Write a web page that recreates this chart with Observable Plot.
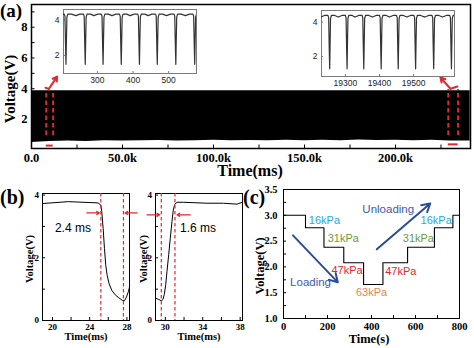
<!DOCTYPE html>
<html><head><meta charset="utf-8">
<script src="https://cdn.jsdelivr.net/npm/d3@7"></script>
<script src="https://cdn.jsdelivr.net/npm/@observablehq/plot@0.6"></script>
<style>
body{margin:0;background:#fff;}
#root{position:relative;width:474px;height:348px;overflow:hidden;background:#fff;}
.lbl{position:absolute;font-family:"Liberation Serif","Times New Roman",serif;font-weight:bold;color:#000;white-space:nowrap;line-height:1;}
</style></head><body><div id="root"></div>
<script>
// ---------------- DATA ----------------
// Panel (a): long-term signal envelope (time in ms, voltage in V)
const aTime  = [0,10000,20000,30000,40000,50000,60000,70000,80000,90000,100000,110000,120000,130000,140000,150000,160000,170000,180000,190000,200000,210000,220000,230000,241000];
const aUpper = [3.86,3.86,3.86,3.86,3.86,3.86,3.86,3.86,3.86,3.86,3.86,3.86,3.86,3.86,3.86,3.86,3.86,3.86,3.86,3.86,3.86,3.86,3.86,3.86,3.86];
const aLower = [0.50,0.56,0.60,0.57,0.62,0.60,0.61,0.63,0.60,0.62,0.64,0.61,0.63,0.62,0.65,0.61,0.64,0.62,0.66,0.63,0.65,0.62,0.64,0.60,0.60];
const aXTicks = [0,50000,100000,150000,200000];
const aXTickLabels = ["0.0","50.0k","100.0k","150.0k","200.0k"];
const aXMinor = [25000,75000,125000,175000,225000];
const aYTicks = [2,4,6,8];
const aYMinor = [1,3,5,7,9];
const aWindowLeft  = [8100, 11900];
const aWindowRight = [229000, 234400];

// Insets of (a)
const insetLTicks = [300,400,500];
const insetLDips  = [212,266,316,367,418,468,520,573];
const insetRTicks = [19300,19400,19500];
const insetRDips  = [19254,19305,19354,19405,19455,19506,19559,19611];
const insetYTicks = [2,4];
const dipOffset = [-26,-15,-5,-3,-1.2,0,1,2.5,5,15];
const dipDepth  = [0.03,0,0,0.04,0.65,1,0.6,0.06,0,0];
const insetLTop = 4.33, insetLBottom = 1.50;
const insetRTop = 4.39, insetRBottom = 1.28;

// Panel (b): response (left) and recovery (right)
const bLeftTime = [18.93,21.7,24.9,25.20,25.30,25.45,25.59,25.73,25.88,26.09,26.38,26.74,27.10,27.53,27.74,27.96,28.17,28.28];
const bLeftVolt = [3.73,3.79,3.75,3.68,3.47,2.93,2.29,1.76,1.44,1.17,0.96,0.82,0.73,0.64,0.63,0.75,0.93,1.07];
const bRightTime = [28.95,29.29,29.57,29.75,29.89,30.04,30.18,30.36,30.53,30.71,30.85,31.00,31.25,31.96,34.45,36.23,37.65,38.25];
const bRightVolt = [0.72,0.67,0.63,0.67,0.83,1.14,1.57,2.10,2.62,3.15,3.52,3.70,3.77,3.77,3.74,3.74,3.71,3.77];
const bLeftMarkers  = [25.2, 27.63];
const bRightMarkers = [29.57, 31.03];
const bLeftLabel = "2.4 ms", bRightLabel = "1.6 ms";
const bYTicks = [0,2,4], bYMinor = [1,3];
const bLeftXTicks = [20,24,28], bLeftXMinor = [22,26];
const bRightXTicks = [30,34,38], bRightXMinor = [32,36];

// Panel (c): step response to pressure loading/unloading
const cTime = [0,100,184,274,364,452,564,686,770,800];
const cVolt = [3.00,2.76,2.38,2.08,1.66,2.08,2.38,2.76,3.00,3.00];
const cLabels = ["16kPa","31kPa","47kPa","63kPa","47kPa","31kPa","16kPa"];
const cLabelT = [186,272,289,400,533,613,694];
const cLabelV = [2.90,2.545,1.93,1.51,1.91,2.545,2.90];
const cXTicks = [0,200,400,600,800], cXMinor = [100,300,500,700];
const cYTicks = [1.0,1.5,2.0,2.5,3.0,3.5], cYMinor = [1.25,1.75,2.25,2.75,3.25];

// ---------------- STYLE ----------------
const SERIF = '"Liberation Serif","Times New Roman",serif';
const SANS = '"Liberation Sans",Arial,sans-serif';
const RED = "#e3262f";
const pressureColor = {"16kPa":"#27a9e1","31kPa":"#6e9a3b","47kPa":"#e5262a","63kPa":"#e98452"};
const ARROW_BLUE = "#2b4c9b", TEXT_BLUE = "#3c5ba8";

const root = document.getElementById("root");
function place(node, left, top) {
  node.style.position = "absolute"; node.style.left = left + "px"; node.style.top = top + "px";
  root.appendChild(node);
}
function label(text, cx, cy, size, rotate) {
  const d = document.createElement("div");
  d.className = "lbl"; d.textContent = text; d.style.fontSize = size + "px";
  d.style.left = cx + "px"; d.style.top = cy + "px";
  d.style.transform = "translate(-50%,-50%)" + (rotate ? " rotate(-90deg)" : "");
  root.appendChild(d);
}
function corner(text, left, top, size) {
  const d = document.createElement("div");
  d.className = "lbl"; d.textContent = text; d.style.fontSize = size + "px";
  d.style.left = left + "px"; d.style.top = top + "px";
  root.appendChild(d);
}
function panel(o) {
  const iw = o.width - o.ml - o.mr, ih = o.height - o.mt - o.mb;
  const tl = o.tickLen ?? 3;
  const fr = o.frame ?? "black";
  return Plot.plot({
    width: o.width, height: o.height,
    marginLeft: o.ml, marginRight: o.mr, marginTop: o.mt, marginBottom: o.mb,
    x: {domain: o.xd}, y: {domain: o.yd},
    style: {fontFamily: o.font ?? SERIF, fontSize: o.fs + "px", fontWeight: o.fw ?? "bold",
            background: "transparent", overflow: "visible", color: o.color ?? "black"},
    marks: [
      ...(o.under ?? []),
      Plot.ruleX(o.xt.concat(o.xm ?? []), {insetTop: ih - tl, stroke: fr}),
      Plot.ruleY(o.yt.concat(o.ym ?? []), {insetRight: iw - tl, stroke: fr}),
      Plot.axisX({ticks: o.xt, tickSize: 0, tickPadding: o.xpad, tickFormat: o.xf ?? (d => String(d)), label: null}),
      Plot.axisY({ticks: o.yt, tickSize: 0, tickPadding: o.ypad, tickFormat: o.yf ?? (d => String(d)), label: null}),
      Plot.frame({stroke: fr, strokeWidth: o.fwid ?? 1}),
      ...(o.over ?? [])
    ]
  });
}

// ---------------- PANEL (a) ----------------
const band = aTime.map((t, i) => ({t, lo: aLower[i], hi: aUpper[i]}));
const redDash = {stroke: RED, strokeWidth: 2, strokeDasharray: "4.5,3"};
place(panel({
  width: 474, height: 178, ml: 31, mr: 4, mt: 4, mb: 30,
  xd: [0, 241200], yd: [0.11, 9.48], fs: 12.5, xpad: 5, ypad: 4, tickLen: 3.5, fwid: 1.5,
  xt: aXTicks, xm: aXMinor, yt: aYTicks, ym: aYMinor,
  xf: d => aXTickLabels[aXTicks.indexOf(d)],
  under: [Plot.areaY(band, {x: "t", y1: "lo", y2: "hi", fill: "black"})],
  over: [
    Plot.ruleX(aWindowLeft, {y1: 0.96, y2: 3.77, ...redDash}),
    Plot.ruleX(aWindowRight, {y1: 0.96, y2: 3.95, ...redDash}),
    Plot.ruleY([0.30], {x1: aWindowLeft[0], x2: aWindowLeft[1], stroke: RED, strokeWidth: 2}),
    Plot.ruleY([0.38], {x1: aWindowRight[0], x2: aWindowRight[1], stroke: RED, strokeWidth: 2}),
    Plot.line([[7700, 4.06], [9500, 3.99]], {stroke: RED, strokeWidth: 2}),
    Plot.arrow([{x1: 9500, y1: 3.99, x2: 14100, y2: 4.79}], {x1: "x1", y1: "y1", x2: "x2", y2: "y2", stroke: RED, strokeWidth: 2, headLength: 5}),
    Plot.line([[234000, 4.14], [230200, 4.0]], {stroke: RED, strokeWidth: 2}),
    Plot.arrow([{x1: 230200, y1: 4.0, x2: 224700, y2: 4.73}], {x1: "x1", y1: "y1", x2: "x2", y2: "y2", stroke: RED, strokeWidth: 2, headLength: 5})
  ]
}), 0, 0);

function pulseTrain(dips, top, bottom) {
  const pts = [];
  for (const c of dips) dipOffset.forEach((o, i) => pts.push({t: c + o, v: top - dipDepth[i] * (top - bottom)}));
  return pts;
}
place(panel({
  width: 160, height: 88, ml: 23, mr: 4, mt: 9, mb: 15,
  xd: [205, 578], yd: [0.98, 4.59], fs: 8.5, font: SANS, fw: "normal", xpad: 3, ypad: 4, tickLen: 2,
  frame: "#7a7a7a", xt: insetLTicks, yt: insetYTicks, color: "#222",
  over: [Plot.line(pulseTrain(insetLDips, insetLTop, insetLBottom), {x: "t", y: "v", stroke: "#333", strokeWidth: 1.2, clip: true})]
}), 40, 0);
place(panel({
  width: 165, height: 90, ml: 26, mr: 6, mt: 10, mb: 14,
  xd: [19230, 19620], yd: [0.83, 4.68], fs: 8.5, font: SANS, fw: "normal", xpad: 3, ypad: 4, tickLen: 2,
  frame: "#7a7a7a", xt: insetRTicks, yt: insetYTicks, color: "#222",
  over: [Plot.line(pulseTrain(insetRDips, insetRTop, insetRBottom), {x: "t", y: "v", stroke: "#333", strokeWidth: 1.2, clip: true})]
}), 295, 0);

corner("(a)", 0, 1, 19);
label("Voltage(V)", 10, 89, 15, true);
label("Time(ms)", 250, 171, 16, false);

// ---------------- PANEL (b) ----------------
const redThin = {stroke: RED, strokeWidth: 1.2, strokeDasharray: "3.5,2.5"};
const arrowOpt = {x1: "x1", y1: "y1", x2: "x2", y2: "y2", stroke: RED, strokeWidth: 1.2, headLength: 4};
place(panel({
  width: 140, height: 165, ml: 42, mr: 11, mt: 13, mb: 25,
  xd: [18.93, 28.28], yd: [0, 4.05], fs: 9, xpad: 3, ypad: 3.5,
  xt: bLeftXTicks, xm: bLeftXMinor, yt: bYTicks, ym: bYMinor,
  over: [
    Plot.line(bLeftTime.map((t, i) => [t, bLeftVolt[i]]), {stroke: "black", strokeWidth: 1}),
    Plot.ruleX(bLeftMarkers, redThin),
    Plot.arrow([{x1: 23.7, y1: 3.43, x2: 25.05, y2: 3.43}, {x1: 29.1, y1: 3.43, x2: 27.8, y2: 3.43}], arrowOpt),
    Plot.text([bLeftLabel], {x: 22.2, y: 2.94, fontFamily: SANS, fontWeight: "normal", fontSize: 12})
  ]
}), 0, 180);
place(panel({
  width: 110, height: 165, ml: 15, mr: 8, mt: 13, mb: 25,
  xd: [28.95, 38.25], yd: [0, 4.05], fs: 9, xpad: 3, ypad: 3.5,
  xt: bRightXTicks, xm: bRightXMinor, yt: bYTicks, ym: bYMinor,
  over: [
    Plot.line(bRightTime.map((t, i) => [t, bRightVolt[i]]), {stroke: "black", strokeWidth: 1}),
    Plot.ruleX(bRightMarkers, redThin),
    Plot.arrow([{x1: 28.05, y1: 3.37, x2: 29.4, y2: 3.37}, {x1: 32.67, y1: 3.37, x2: 31.25, y2: 3.37}], arrowOpt),
    Plot.text([bRightLabel], {x: 33.5, y: 2.95, fontFamily: SANS, fontWeight: "normal", fontSize: 12})
  ]
}), 140, 180);
corner("(b)", 0, 187, 20);
label("Voltage(V)", 30, 259, 10.5, true);
label("Voltage(V)", 144, 259, 10.5, true);
label("Time(ms)", 86, 337, 10.5, false);
label("Time(ms)", 199, 337, 10.5, false);

// ---------------- PANEL (c) ----------------
const cLab = cLabels.map((s, i) => ({s, t: cLabelT[i], v: cLabelV[i]}));
place(panel({
  width: 224, height: 168, ml: 33, mr: 15, mt: 9, mb: 30,
  xd: [0, 800], yd: [1, 3.5], fs: 10.5, xpad: 4, ypad: 6,
  xt: cXTicks, xm: cXMinor, yt: cYTicks, ym: cYMinor, yf: d3.format(".1f"),
  over: [
    Plot.line(cTime.map((t, i) => [t, cVolt[i]]), {stroke: "black", strokeWidth: 1.1, curve: "step-after"}),
    Plot.text(cLab, {x: "t", y: "v", text: "s", fill: d => pressureColor[d.s], fontFamily: SANS, fontWeight: "normal", fontSize: 11}),
    Plot.arrow([{x1: 43, y1: 2.61, x2: 247, y2: 1.70}, {x1: 424, y1: 2.34, x2: 667, y2: 3.23}],
      {x1: "x1", y1: "y1", x2: "x2", y2: "y2", stroke: ARROW_BLUE, strokeWidth: 2, headLength: 7}),
    Plot.text(["Loading"], {x: 123, y: 1.70, fill: TEXT_BLUE, fontFamily: SANS, fontWeight: "normal", fontSize: 11.5}),
    Plot.text(["Unloading"], {x: 476, y: 3.11, fill: TEXT_BLUE, fontFamily: SANS, fontWeight: "normal", fontSize: 11.5})
  ]
}), 250, 180);
corner("(c)", 243, 187, 20);
label("Voltage(V)", 260, 266, 12.5, true);
label("Time(s)", 369, 339, 12.5, false);
</script></body></html>
